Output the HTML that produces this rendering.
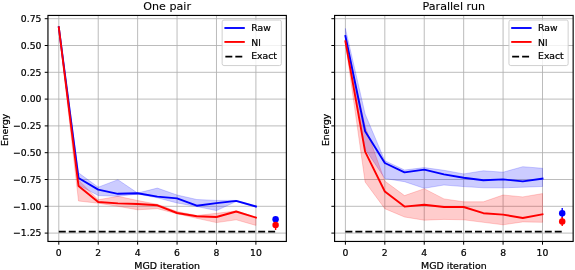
<!DOCTYPE html><html><head><meta charset="utf-8"><style>html,body{margin:0;padding:0;background:#fff;}svg{display:block;}</style></head><body>
<svg width="575" height="270" viewBox="0 0 575 270" font-family='"DejaVu Sans", "Liberation Sans", sans-serif'>
<style>text{fill:#000;stroke:#000;stroke-width:0.22px;}</style>
<rect width="575" height="270" fill="#fff"/>
<clipPath id="cleft"><rect x="47.95" y="15.45" width="238.40" height="226.00"/></clipPath>
<path d="M58.80 15.45V241.45M98.22 15.45V241.45M137.64 15.45V241.45M177.06 15.45V241.45M216.48 15.45V241.45M255.90 15.45V241.45M47.95 18.70H286.35M47.95 45.50H286.35M47.95 72.30H286.35M47.95 99.10H286.35M47.95 125.90H286.35M47.95 152.70H286.35M47.95 179.50H286.35M47.95 206.30H286.35M47.95 233.10H286.35" stroke="#b0b0b0" stroke-width="0.85" fill="none"/>
<g clip-path="url(#cleft)">
<path d="M58.80 26.00L78.51 172.80L98.22 187.20L117.93 179.70L137.64 193.10L157.35 188.10L177.06 195.00L196.77 199.50L216.48 200.40L236.19 200.40L255.90 205.80L255.90 207.20L236.19 201.50L216.48 210.60L196.77 206.50L177.06 203.00L157.35 197.80L137.64 194.00L117.93 196.30L98.22 195.50L78.51 185.00L58.80 27.50Z" fill="#0000ff" fill-opacity="0.2" stroke="#0000ff" stroke-opacity="0.2" stroke-width="0.93"/>
<path d="M58.80 26.00L78.51 180.00L98.22 199.80L117.93 196.30L137.64 200.50L157.35 204.30L177.06 211.50L196.77 215.50L216.48 213.30L236.19 211.00L255.90 217.00L255.90 225.40L236.19 219.80L216.48 222.60L196.77 218.30L177.06 213.80L157.35 208.70L137.64 209.80L117.93 206.30L98.22 203.20L78.51 201.00L58.80 27.50Z" fill="#ff0000" fill-opacity="0.2" stroke="#ff0000" stroke-opacity="0.2" stroke-width="0.93"/>
<path d="M58.80 27.40L78.51 178.00L98.22 189.60L117.93 193.80L137.64 193.30L157.35 196.60L177.06 198.40L196.77 205.70L216.48 203.10L236.19 200.90L255.90 206.50" fill="none" stroke="#0000ff" stroke-width="1.88" stroke-linejoin="round" stroke-linecap="square"/>
<path d="M58.80 27.40L78.51 186.00L98.22 202.00L117.93 203.40L137.64 204.00L157.35 205.30L177.06 213.00L196.77 216.20L216.48 217.00L236.19 211.50L255.90 217.60" fill="none" stroke="#ff0000" stroke-width="1.88" stroke-linejoin="round" stroke-linecap="square"/>
<path d="M58.80 231.60H275.61" stroke="#000" stroke-width="1.88" stroke-dasharray="6.96 3.01" fill="none"/>
<path d="M275.61 217.50V221.00" stroke="#0000ff" stroke-width="1.39"/>
<circle cx="275.61" cy="219.20" r="3.24" fill="#0000ff"/>
<path d="M275.61 222.50V230.00" stroke="#ff0000" stroke-width="1.39"/>
<circle cx="275.61" cy="225.00" r="3.24" fill="#ff0000"/>
</g>
<rect x="47.95" y="15.45" width="238.40" height="226.00" fill="none" stroke="#000" stroke-width="1.15"/>
<path d="M47.95 18.70h-3.24M47.95 45.50h-3.24M47.95 72.30h-3.24M47.95 99.10h-3.24M47.95 125.90h-3.24M47.95 152.70h-3.24M47.95 179.50h-3.24M47.95 206.30h-3.24M47.95 233.10h-3.24M58.80 241.45v3.24M98.22 241.45v3.24M137.64 241.45v3.24M177.06 241.45v3.24M216.48 241.45v3.24M255.90 241.45v3.24" stroke="#000" stroke-width="1.00" fill="none"/>
<text x="41.48" y="22.07" font-size="9.25" text-anchor="end">0.75</text>
<text x="41.48" y="48.87" font-size="9.25" text-anchor="end">0.50</text>
<text x="41.48" y="75.67" font-size="9.25" text-anchor="end">0.25</text>
<text x="41.48" y="102.47" font-size="9.25" text-anchor="end">0.00</text>
<text x="41.48" y="129.27" font-size="9.25" text-anchor="end">−0.25</text>
<text x="41.48" y="156.07" font-size="9.25" text-anchor="end">−0.50</text>
<text x="41.48" y="182.87" font-size="9.25" text-anchor="end">−0.75</text>
<text x="41.48" y="209.67" font-size="9.25" text-anchor="end">−1.00</text>
<text x="41.48" y="236.47" font-size="9.25" text-anchor="end">−1.25</text>
<text x="58.80" y="256.00" font-size="9.25" text-anchor="middle">0</text>
<text x="98.22" y="256.00" font-size="9.25" text-anchor="middle">2</text>
<text x="137.64" y="256.00" font-size="9.25" text-anchor="middle">4</text>
<text x="177.06" y="256.00" font-size="9.25" text-anchor="middle">6</text>
<text x="216.48" y="256.00" font-size="9.25" text-anchor="middle">8</text>
<text x="255.90" y="256.00" font-size="9.25" text-anchor="middle">10</text>
<text x="167.15" y="269.10" font-size="9.45" text-anchor="middle">MGD iteration</text>
<text x="167.15" y="9.50" font-size="11.10" text-anchor="middle" style="stroke-width:0.1px">One pair</text>
<text transform="translate(8.00 129.90) rotate(-90)" font-size="9.25" text-anchor="middle">Energy</text>
<rect x="222.15" y="20.05" width="59.20" height="45.50" rx="1.85" fill="#fff" fill-opacity="0.8" stroke="#cccccc" stroke-width="0.93"/>
<path d="M225.35 28.00H243.85" stroke="#0000ff" stroke-width="1.88" stroke-linecap="square"/>
<path d="M225.35 41.95H243.85" stroke="#ff0000" stroke-width="1.88" stroke-linecap="square"/>
<path d="M225.35 56.60H243.85" stroke="#000" stroke-width="1.88" stroke-dasharray="6.96 3.01"/>
<text x="251.25" y="31.40" font-size="9.25">Raw</text>
<text x="251.25" y="45.65" font-size="9.25">Nl</text>
<text x="251.25" y="58.50" font-size="9.25">Exact</text>
<clipPath id="cright"><rect x="334.60" y="15.45" width="238.55" height="226.00"/></clipPath>
<path d="M345.40 15.45V241.45M384.82 15.45V241.45M424.24 15.45V241.45M463.66 15.45V241.45M503.08 15.45V241.45M542.50 15.45V241.45M334.60 18.70H573.15M334.60 45.50H573.15M334.60 72.30H573.15M334.60 99.10H573.15M334.60 125.90H573.15M334.60 152.70H573.15M334.60 179.50H573.15M334.60 206.30H573.15M334.60 233.10H573.15" stroke="#b0b0b0" stroke-width="0.85" fill="none"/>
<g clip-path="url(#cright)">
<path d="M345.40 28.40L365.11 114.00L384.82 160.70L404.53 170.00L424.24 167.60L443.95 170.30L463.66 173.90L483.37 170.80L503.08 172.20L522.79 166.70L542.50 168.30L542.50 186.50L522.79 187.20L503.08 187.80L483.37 187.80L463.66 186.60L443.95 185.00L424.24 188.30L404.53 181.70L384.82 178.50L365.11 148.90L345.40 38.00Z" fill="#0000ff" fill-opacity="0.2" stroke="#0000ff" stroke-opacity="0.2" stroke-width="0.93"/>
<path d="M345.40 38.00L365.11 126.00L384.82 181.10L404.53 195.60L424.24 188.70L443.95 198.90L463.66 201.80L483.37 201.80L503.08 195.00L522.79 196.90L542.50 193.60L542.50 222.30L522.79 221.90L503.08 224.80L483.37 222.30L463.66 219.80L443.95 219.40L424.24 220.20L404.53 217.00L384.82 208.70L365.11 182.00L345.40 42.50Z" fill="#ff0000" fill-opacity="0.2" stroke="#ff0000" stroke-opacity="0.2" stroke-width="0.93"/>
<path d="M345.40 36.00L365.11 131.30L384.82 163.00L404.53 172.40L424.24 169.60L443.95 174.40L463.66 177.80L483.37 180.30L503.08 179.40L522.79 181.40L542.50 178.60" fill="none" stroke="#0000ff" stroke-width="1.88" stroke-linejoin="round" stroke-linecap="square"/>
<path d="M345.40 41.30L365.11 151.60L384.82 191.50L404.53 206.60L424.24 204.80L443.95 207.00L463.66 207.00L483.37 213.20L503.08 214.60L522.79 218.00L542.50 214.30" fill="none" stroke="#ff0000" stroke-width="1.88" stroke-linejoin="round" stroke-linecap="square"/>
<path d="M345.40 231.60H562.21" stroke="#000" stroke-width="1.88" stroke-dasharray="6.96 3.01" fill="none"/>
<path d="M562.21 208.00V218.00" stroke="#0000ff" stroke-width="1.39"/>
<circle cx="562.21" cy="213.20" r="3.24" fill="#0000ff"/>
<path d="M562.21 217.00V226.00" stroke="#ff0000" stroke-width="1.39"/>
<circle cx="562.21" cy="221.40" r="3.24" fill="#ff0000"/>
</g>
<rect x="334.60" y="15.45" width="238.55" height="226.00" fill="none" stroke="#000" stroke-width="1.15"/>
<path d="M334.60 18.70h-3.24M334.60 45.50h-3.24M334.60 72.30h-3.24M334.60 99.10h-3.24M334.60 125.90h-3.24M334.60 152.70h-3.24M334.60 179.50h-3.24M334.60 206.30h-3.24M334.60 233.10h-3.24M345.40 241.45v3.24M384.82 241.45v3.24M424.24 241.45v3.24M463.66 241.45v3.24M503.08 241.45v3.24M542.50 241.45v3.24" stroke="#000" stroke-width="1.00" fill="none"/>
<text x="345.40" y="256.00" font-size="9.25" text-anchor="middle">0</text>
<text x="384.82" y="256.00" font-size="9.25" text-anchor="middle">2</text>
<text x="424.24" y="256.00" font-size="9.25" text-anchor="middle">4</text>
<text x="463.66" y="256.00" font-size="9.25" text-anchor="middle">6</text>
<text x="503.08" y="256.00" font-size="9.25" text-anchor="middle">8</text>
<text x="542.50" y="256.00" font-size="9.25" text-anchor="middle">10</text>
<text x="453.88" y="269.10" font-size="9.45" text-anchor="middle">MGD iteration</text>
<text x="453.88" y="9.50" font-size="11.10" text-anchor="middle" style="stroke-width:0.1px">Parallel run</text>
<text transform="translate(329.40 129.90) rotate(-90)" font-size="9.25" text-anchor="middle">Energy</text>
<rect x="508.95" y="20.05" width="59.20" height="45.50" rx="1.85" fill="#fff" fill-opacity="0.8" stroke="#cccccc" stroke-width="0.93"/>
<path d="M512.15 28.00H530.65" stroke="#0000ff" stroke-width="1.88" stroke-linecap="square"/>
<path d="M512.15 41.95H530.65" stroke="#ff0000" stroke-width="1.88" stroke-linecap="square"/>
<path d="M512.15 56.60H530.65" stroke="#000" stroke-width="1.88" stroke-dasharray="6.96 3.01"/>
<text x="538.05" y="31.40" font-size="9.25">Raw</text>
<text x="538.05" y="45.65" font-size="9.25">Nl</text>
<text x="538.05" y="58.50" font-size="9.25">Exact</text>
</svg></body></html>
